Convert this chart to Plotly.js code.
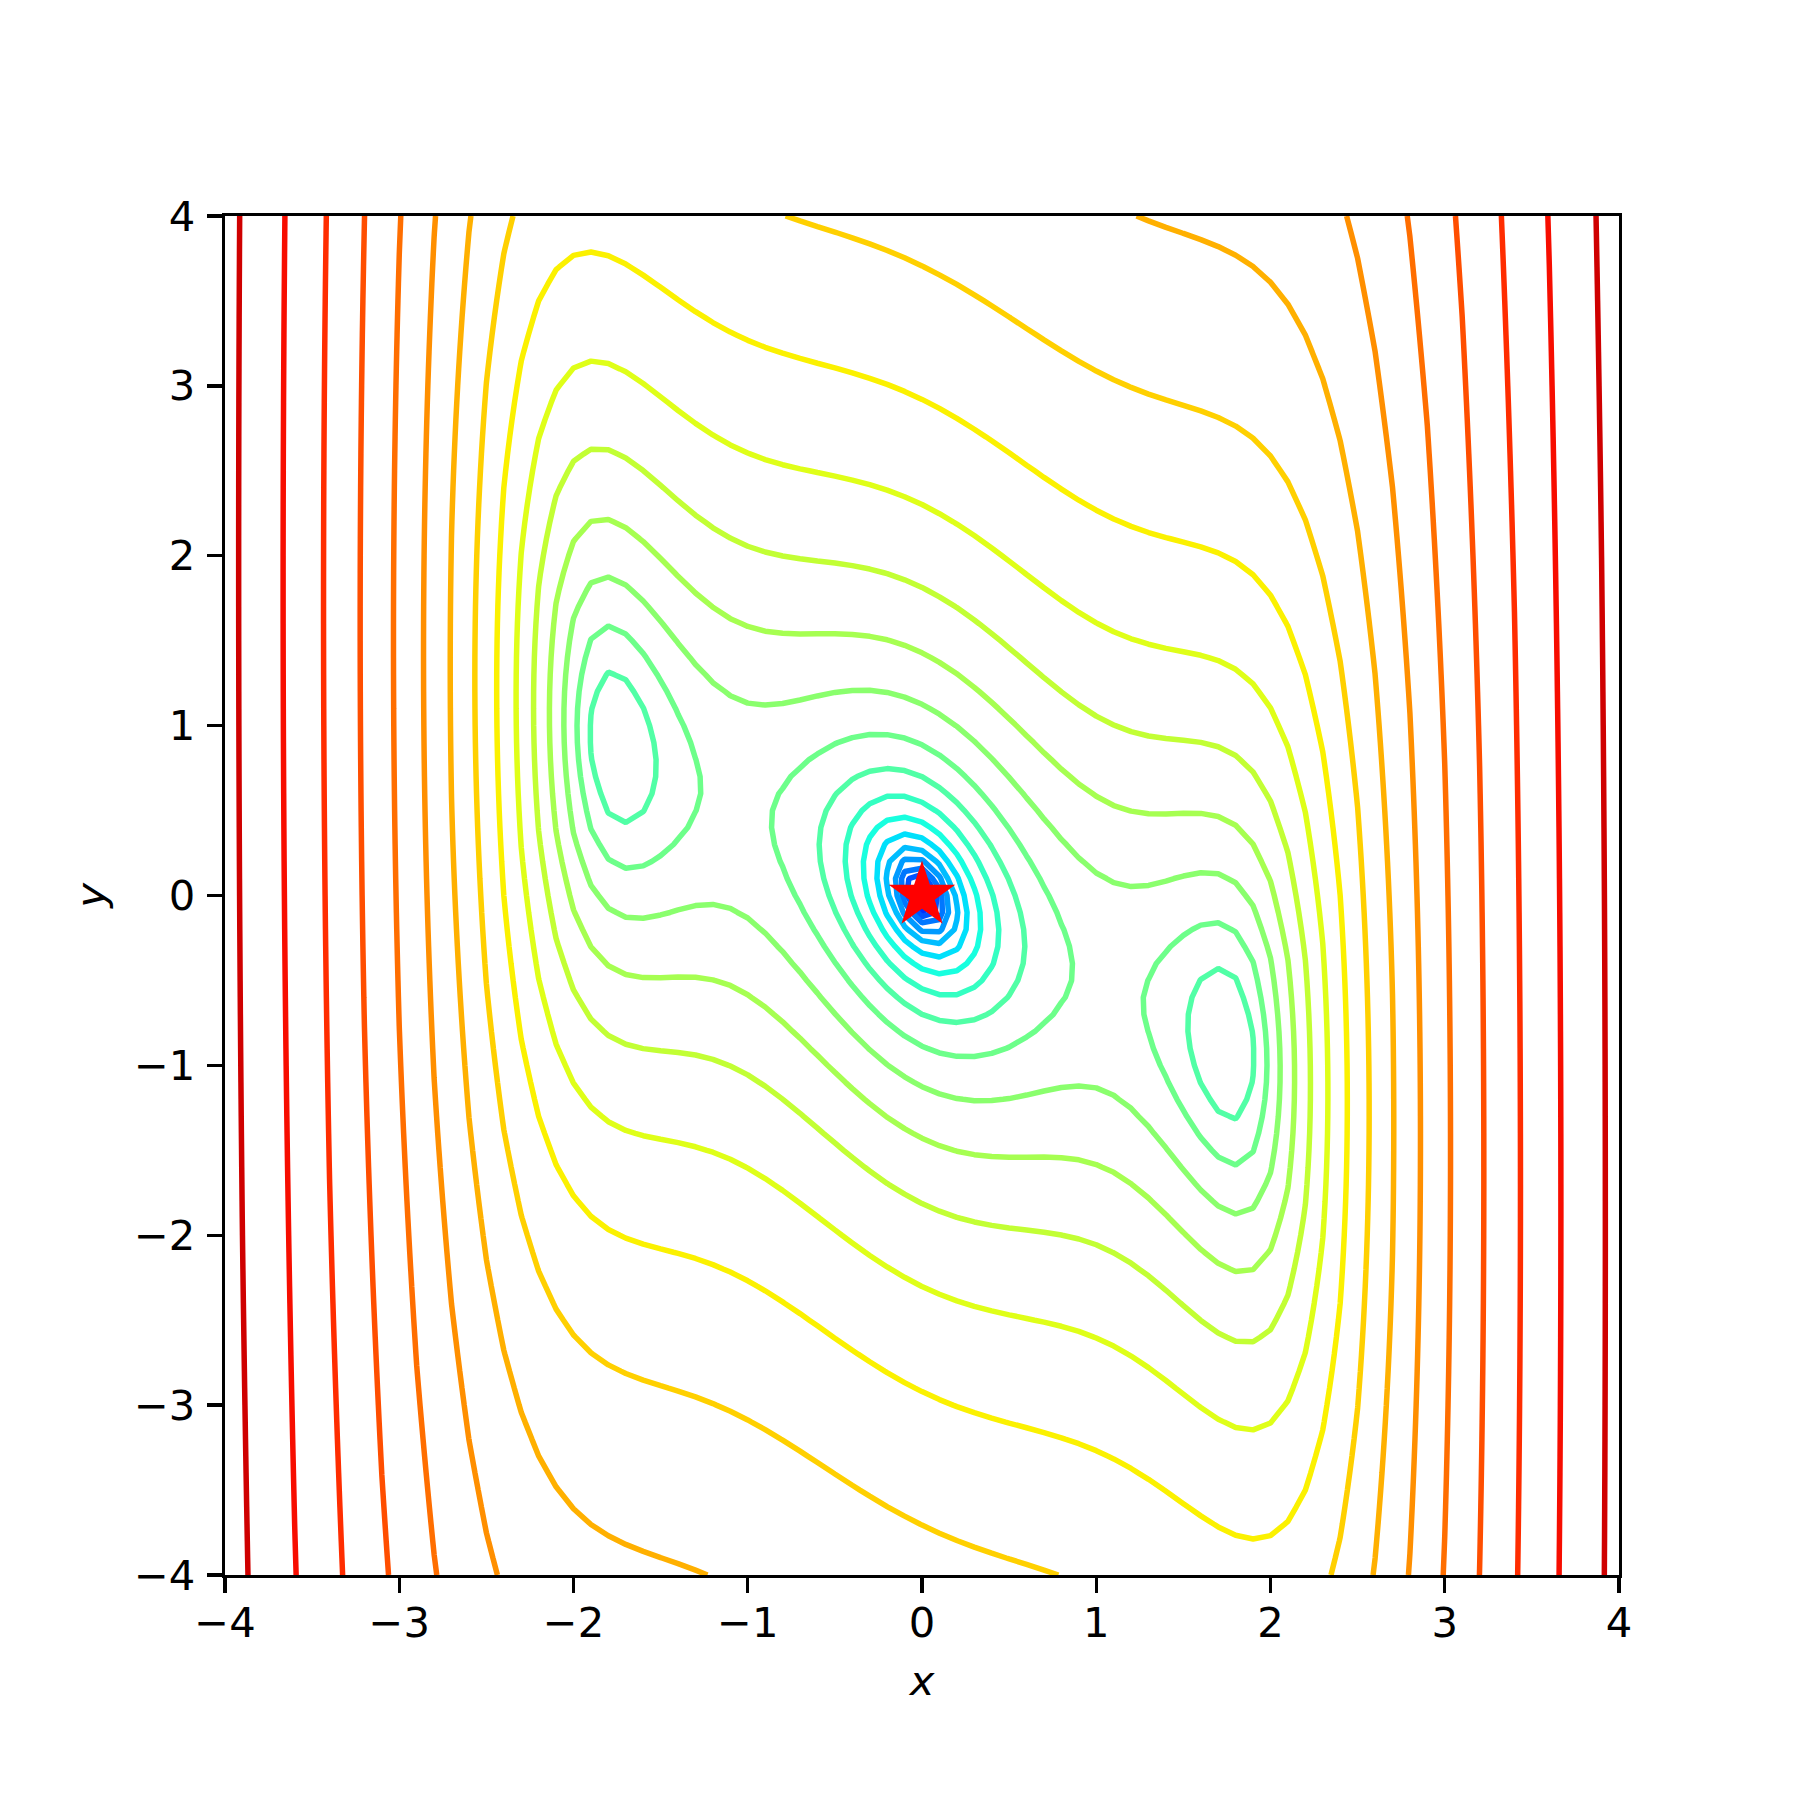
<!DOCTYPE html>
<html>
<head>
<meta charset="utf-8">
<script src="https://cdn.plot.ly/plotly-3.0.1.min.js"></script>
<style>html,body{margin:0;padding:0;background:#fff;}</style>
</head>
<body>
<div id="chart" style="width:1800px;height:1800px;"></div>
<script>
// Three-hump camel function, sampled on an 81 x 81 grid (step 0.1) over [-4, 4] x [-4, 4]
const xLimits = [-4, 4];
const yLimits = [-4, 4];
const gridPoints = 81;
// Contour levels (log-spaced, 1e-3 .. 1e3, 30 levels), given as base-10 exponents
const levelExponents = [-3.0000, -2.7931, -2.5862, -2.3793, -2.1724, -1.9655, -1.7586, -1.5517, -1.3448, -1.1379,
  -0.9310, -0.7241, -0.5172, -0.3103, -0.1034, 0.1034, 0.3103, 0.5172, 0.7241, 0.9310,
  1.1379, 1.3448, 1.5517, 1.7586, 1.9655, 2.1724, 2.3793, 2.5862, 2.7931, 3.0000];
const minimumPoint = {x: [0], y: [0]};
const tickValues = [-4, -3, -2, -1, 0, 1, 2, 3, 4];
const tickLabels = ['\u22124', '\u22123', '\u22122', '\u22121', '0', '1', '2', '3', '4'];

function camel(x, y) {
  return 2 * x * x - 1.05 * Math.pow(x, 4) + Math.pow(x, 6) / 6 + x * y + y * y;
}

const xs = [], ys = [];
for (let i = 0; i < gridPoints; i++) {
  xs.push(xLimits[0] + (xLimits[1] - xLimits[0]) * i / (gridPoints - 1));
  ys.push(yLimits[0] + (yLimits[1] - yLimits[0]) * i / (gridPoints - 1));
}
const Z = ys.map(y => xs.map(x => camel(x, y)));

// matplotlib 'jet'
const jetR = [[0, 0], [0.35, 0], [0.66, 1], [0.89, 1], [1, 0.5]];
const jetG = [[0, 0], [0.125, 0], [0.375, 1], [0.64, 1], [0.91, 0], [1, 0]];
const jetB = [[0, 0.5], [0.11, 1], [0.34, 1], [0.65, 0], [1, 0]];
function seg(s, t) {
  for (let i = 1; i < s.length; i++) {
    if (t <= s[i][0]) {
      const f = (t - s[i - 1][0]) / (s[i][0] - s[i - 1][0]);
      return s[i - 1][1] + f * (s[i][1] - s[i - 1][1]);
    }
  }
  return s[s.length - 1][1];
}
function jet(t) {
  t = Math.max(0, Math.min(1, t));
  const c = [seg(jetR, t), seg(jetG, t), seg(jetB, t)].map(v => Math.round(v * 255));
  return 'rgb(' + c.join(',') + ')';
}

const eMin = levelExponents[0], eMax = levelExponents[levelExponents.length - 1];
const traces = levelExponents.map(e => {
  const L = Math.pow(10, e);
  return {
    type: 'contour', x: xs, y: ys, z: Z,
    autocontour: false,
    contours: {start: L, end: L, size: 1, coloring: 'none', showlabels: false},
    line: {color: jet((e - eMin) / (eMax - eMin)), width: 5.5, smoothing: 0},
    showscale: false, hoverinfo: 'skip', showlegend: false
  };
});
traces.push({
  type: 'scatter', mode: 'markers', x: minimumPoint.x, y: minimumPoint.y,
  marker: {symbol: 'star', size: 50, color: 'rgb(255,0,0)', line: {width: 0}},
  showlegend: false, hoverinfo: 'skip'
});

const axisFont = {family: 'DejaVu Sans', size: 41.7, color: '#000'};
const layout = {
  width: 1800, height: 1800,
  paper_bgcolor: '#fff', plot_bgcolor: '#fff',
  margin: {l: 225, r: 181, t: 216, b: 225},
  showlegend: false,
  xaxis: {
    range: xLimits, tickvals: tickValues, ticktext: tickLabels,
    showgrid: false, zeroline: false, showline: true, mirror: true,
    linecolor: '#000', linewidth: 3.3, ticks: 'outside', ticklen: 15, tickwidth: 3.3, tickcolor: '#000',
    tickfont: axisFont, ticklabelstandoff: -6,
    title: {text: '<i>x</i>', font: axisFont, standoff: 20},
    automargin: false
  },
  yaxis: {
    range: yLimits, tickvals: tickValues, ticktext: tickLabels,
    showgrid: false, zeroline: false, showline: true, mirror: true,
    linecolor: '#000', linewidth: 3.3, ticks: 'outside', ticklen: 15, tickwidth: 3.3, tickcolor: '#000',
    tickfont: axisFont, ticklabelstandoff: 3,
    title: {text: '<i>y</i>', font: axisFont, standoff: 16},
    automargin: false
  }
};
Plotly.newPlot('chart', traces, layout, {displayModeBar: false, staticPlot: true});
</script>
</body>
</html>
